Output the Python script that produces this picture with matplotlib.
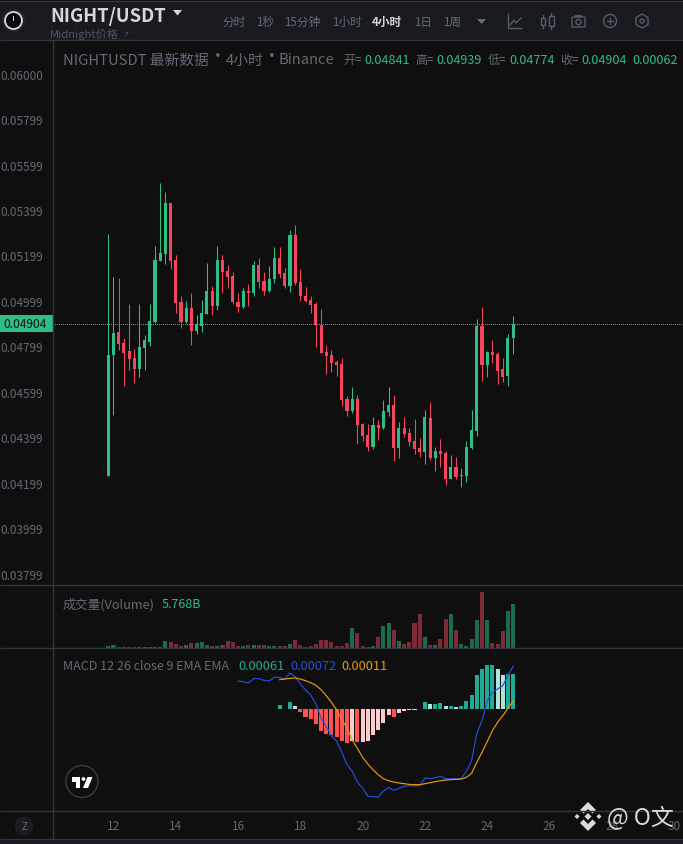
import matplotlib

matplotlib.use("Agg")
import matplotlib.pyplot as plt
import numpy as np
from matplotlib.patches import Circle, Polygon, Rectangle, FancyBboxPatch
from matplotlib.transforms import ScaledTranslation

plt.rcParams["font.family"] = ["Noto Sans CJK SC", "DejaVu Sans"]

W, H = 683, 845
BG = "#0F0F0F"
HEADER = "#181A20"
LINE = "#2F343F"
MUTED = "#646A76"
UP = "#2EBD85"
DOWN = "#F6465D"
BLUE = "#2450D8"
ORANGE = "#E89A0C"

opens = [.04235, .04767, .04869, .04820, .04785, .04754, .04706, .04798, .04825, .04913,
         .05181, .05212, .05437, .05186, .05001, .04913, .04974, .04873, .04895, .04948,
         .05049, .04983, .05186, .05137, .05115, .05001, .04979, .05049, .05040, .05164,
         .05093, .05049, .05102, .05194, .05128, .05071, .05296, .05089, .05027, .05010,
         .04992, .04900, .04781, .04767, .04737, .04728, .04574, .04521, .04574, .04464,
         .04415, .04363, .04459, .04446, .04517, .04547, .04358, .04446, .04424, .04389,
         .04358, .04341, .04490, .04314, .04345, .04336, .04222, .04274, .04235, .04235,
         .04358, .04433, .04895, .04723, .04781, .04772, .04706, .04675, .04841]
highs = [.05300, .05111, .05106, .04842, .04992, .04794, .04992, .04856, .04992, .05247,
         .05525, .05485, .05437, .05208, .05027, .05005, .05040, .04944, .05010, .05172,
         .05071, .05247, .05208, .05164, .05133, .05040, .05062, .05080, .05181, .05194,
         .05133, .05159, .05243, .05243, .05150, .05318, .05340, .05146, .05067, .05027,
         .05001, .04970, .04812, .04790, .04745, .04754, .04587, .04627, .04591, .04468,
         .04464, .04495, .04481, .04569, .04627, .04591, .04473, .04495, .04446, .04486,
         .04402, .04525, .04561, .04363, .04398, .04345, .04327, .04319, .04270, .04389,
         .04525, .04926, .04979, .04785, .04834, .04781, .04754, .04860, .04939]
lows = [.04235, .04503, .04790, .04631, .04701, .04644, .04671, .04701, .04807, .04908,
        .05181, .05168, .05146, .04952, .04886, .04908, .04812, .04860, .04869, .04948,
        .04944, .04966, .05040, .05062, .04992, .04957, .04974, .04983, .05027, .05062,
        .05032, .05045, .05084, .05106, .05062, .05045, .05076, .05005, .05001, .04952,
        .04803, .04776, .04684, .04693, .04675, .04543, .04499, .04512, .04376, .04389,
        .04345, .04354, .04393, .04442, .04499, .04301, .04314, .04407, .04367, .04332,
        .04319, .04288, .04305, .04257, .04274, .04195, .04222, .04222, .04186, .04208,
        .04354, .04411, .04653, .04671, .04732, .04640, .04649, .04631, .04774]
closes = [.04767, .04864, .04816, .04776, .04750, .04706, .04803, .04834, .04917, .05186,
          .05216, .05437, .05181, .04996, .04913, .04974, .04873, .04904, .04952, .05049,
          .04983, .05186, .05133, .05111, .05001, .04979, .05049, .05040, .05164, .05089,
          .05049, .05102, .05194, .05124, .05071, .05296, .05084, .05027, .05005, .04988,
          .04900, .04776, .04763, .04732, .04723, .04569, .04521, .04574, .04459, .04411,
          .04363, .04459, .04446, .04521, .04547, .04358, .04446, .04420, .04385, .04354,
          .04341, .04495, .04314, .04345, .04332, .04222, .04274, .04230, .04239, .04363,
          .04437, .04895, .04723, .04781, .04767, .04697, .04671, .04842, .04904]
# volume in billions
volumes = [.22, .39, .13, .13, .13, .13, .13, .13, .13, .13, .13, .87, .74, .52, .26, .39,
           .66, .66, .79, .39, .26, .26, .39, .87, .79, .26, .26, .39, .39, .39, .39, .26,
           .26, .26, .26, .52, 1.0, .39, .13, .26, .52, 1.05, 1.05, .79, .26, .26, .66,
           2.62, 1.97, .26, .13, .26, 1.44, 2.88, 3.28, 2.36, .92, .52, .79, 3.28, 4.46,
           1.44, .39, .39, 1.18, 3.8, 4.46, 2.36, .52, .26, 1.18, 3.67, 7.34, 3.67, .66,
           .52, 2.23, 4.85, 5.768]
# macd values in units of 1e-5, histogram from bar 33, macd from bar 25, signal from bar 33
hist = [6.4, -1.2, 11.6, 4.6, -5.8, -14.5, -18, -26.7, -38.9, -44.1, -46.4, -49.3, -56.3,
        -59.7, -56.8, -58, -57.9, -56.3, -45.8, -37.1, -24.9, -11, -14.5, -7.5, -3.5, -2.3,
        -1.7, -.6, 11.6, 8.1, 8.7, 9.9, 4.6, 5.2, 2.9, 4.6, 13.3, 23.8, 58.6, 69, 76, 76,
        69, 58.6, 60.3, 61]
macd = [48.1, 47, 44.7, 52.2, 52.2, 49.3, 48.1, 54.5, 54.5, 51.6, 62.1, 55.7, 42.9, 32.5,
        23.8, 8.1, -16.2, -31.3, -47, -56.8, -76, -97.4, -109, -128.2, -138, -152.5, -153.1,
        -153.7, -143.8, -136.9, -142.1, -138.6, -135.1, -134, -134, -133.4, -120.6, -121.8,
        -120.1, -117.7, -121.8, -121.8, -121.8, -121.8, -109, -90.5, -42.9, -20.9, 13.9,
        28.4, 34.2, 40, 57.4, 73.7]
signal = [50.5, 51.6, 52.8, 53.4, 51.6, 48.7, 45.2, 40.6, 33.1, 22.6, 11, -2.3, -19.1, -33.6,
          -54.5, -69, -84.7, -96.3, -106.1, -114.8, -121.8, -125.3, -127.6, -129.3, -130.5,
          -131.7, -132.2, -132.2, -130.5, -128.8, -127, -125.3, -124.1, -123.5, -123, -122.4,
          -119.5, -112.5, -93.4, -76, -57.4, -38.3, -23.8, -12.2, .6, 13.3]

price_ticks = [.06000, .05799, .05599, .05399, .05199, .04999, .04799, .04599, .04399, .04199,
               .03999, .03799]
date_ticks = ["12", "14", "16", "18", "20", "22", "24", "26", "28", "30"]
date_bars = [1, 13, 25, 37, 49, 61, 73, 85, 97, 109]
intervals = ["分时", "1秒", "15分钟", "1小时", "4小时", "1日", "1周"]
interval_x = [222, 256, 284, 332, 372, 414, 443]
last_price = 0.04904

BAR_PX = 5.19
BAR0_PX = 108.3
XLIM = ((53 - BAR0_PX) / BAR_PX, (683 - BAR0_PX) / BAR_PX)


def panel(fig, top, bottom):
    ax = fig.add_axes([53 / W, 1 - bottom / H, 630 / W, (bottom - top) / H], facecolor="none")
    ax.set_xlim(*XLIM)
    ax.tick_params(length=0)
    for side in ax.spines.values():
        side.set_visible(False)
    return ax


def draw_candles(ax, xs):
    o, h, l, c = map(np.array, (opens, highs, lows, closes))
    up = c >= o
    colors = np.where(up, UP, DOWN)
    ax.vlines(xs, l, h, colors=colors, lw=0.75)
    ax.bar(xs, np.abs(c - o), bottom=np.minimum(o, c), width=0.6, color=colors, lw=0)
    # 0.06000 sits at y=76px, 0.03799 at y=576px
    per_px = (0.06 - 0.03799) / 500
    ax.set_ylim(0.06 - (586 - 76) * per_px, 0.06 + (76 - 42) * per_px)
    ax.set_yticks(price_ticks, [f"{p:.5f}" for p in price_ticks], color=MUTED, fontsize=8.5)
    ax.tick_params(axis="y", pad=7)
    # labels sit a little above the level they mark
    shift = ScaledTranslation(0, 1.5 / 100, ax.figure.dpi_scale_trans)
    for lab in ax.get_yticklabels():
        lab.set_transform(lab.get_transform() + shift)
    ax.set_xticks([])
    ax.axhline(last_price, color=UP, lw=0.72, ls=(0, (1, 2)), antialiased=False)


def draw_volume(ax, xs):
    up = np.array(closes) >= np.array(opens)
    ax.bar(xs, volumes, width=0.78, color=np.where(up, "#1C6B4E", "#7E2B38"), lw=0)
    ax.set_ylim(0, 62 * 0.1311)
    ax.set_xticks([])
    ax.set_yticks([])


def draw_macd(ax):
    hx = np.arange(33, 33 + len(hist))
    colors = []
    prev = 0
    for v in hist:
        if v >= 0:
            colors.append("#22AB94" if v >= prev else "#ACE5DC")
        else:
            colors.append("#FF5252" if v < prev else "#FCCBCD")
        prev = v
    ax.bar(hx, hist, width=0.78, color=colors, lw=0)
    ax.plot(np.arange(25, 25 + len(macd)), macd, color=BLUE, lw=0.85)
    ax.plot(np.arange(33, 33 + len(signal)), signal, color=ORANGE, lw=0.85)
    # zero line at y=709.7px, one px is 1.74 units
    ax.set_ylim((709.7 - 812) * 1.74, (709.7 - 650) * 1.74)
    ax.set_yticks([])
    ax.set_xticks(date_bars, date_ticks, color=MUTED, fontsize=8.5)
    ax.tick_params(axis="x", pad=6)


def draw_chrome(ov):
    ov.add_patch(Rectangle((0, 2), W, 39, fc=HEADER, ec="none"))
    ov.add_patch(Rectangle((0, 840), W, 5, fc=HEADER, ec="none"))
    for y in (41, 586, 649, 812, 840):
        ov.plot([0, W], [y, y], color=LINE, lw=1, solid_capstyle="butt")
    ov.plot([0, W], [2, 2], color="#33363D", lw=1)
    ov.plot([53, 53], [41, 840], color=LINE, lw=1, solid_capstyle="butt")

    # token icon
    ov.add_patch(Circle((13.5, 21.5), 11.5, fc="#23252B", ec="none"))
    ov.add_patch(Circle((13.5, 21.5), 8.5, fc="#0B0B0D", ec="#DADADA", lw=1.3))
    ov.add_patch(Rectangle((12.8, 16.5), 1.5, 5, fc="#DADADA", ec="none"))

    ov.text(50, 16, "NIGHT/USDT", color="#D5D7DC", fontsize=13.3, fontweight="bold", va="center")
    ov.add_patch(Polygon([[173, 11], [182, 11], [177.5, 16.5]], fc="#D5D7DC", ec="none"))
    ov.text(50, 34.5, "Midnight价格", color="#4D5361", fontsize=8.1, va="center")
    ov.text(122, 35, "↗", color="#4D5361", fontsize=4.5, va="center")

    for label, x in zip(intervals, interval_x):
        active = label == "4小时"
        ov.text(x, 22.5, label, fontsize=8.4, va="center", color="#D5D7DC" if active else MUTED,
                fontweight="bold" if active else "normal")
    ov.add_patch(Polygon([[477, 20], [486, 20], [481.5, 25]], fc=MUTED, ec="none"))

    # toolbar icons
    c = "#565B66"
    ov.plot([508, 508, 521], [15, 29, 29], color=c, lw=1)
    ov.plot([510, 514, 516, 521], [26, 21, 24, 19], color=c, lw=1)
    ov.add_patch(Rectangle((541, 19), 4, 7, fc="none", ec=c, lw=1))
    ov.plot([543, 543], [16, 19], color=c, lw=1)
    ov.plot([543, 543], [26, 29], color=c, lw=1)
    ov.add_patch(Rectangle((549, 17), 4.5, 10, fc="none", ec=c, lw=1))
    ov.plot([551, 551], [14, 17], color=c, lw=1)
    ov.plot([551, 551], [27, 30], color=c, lw=1)
    ov.add_patch(FancyBboxPatch((572, 18), 13, 10, boxstyle="round,pad=0,rounding_size=1", fc="none", ec=c, lw=1))
    ov.add_patch(Rectangle((575, 15.5), 7, 2.5, fc=c, ec="none"))
    ov.add_patch(Circle((578.5, 23), 2.6, fc="none", ec=c, lw=1))
    ov.add_patch(Circle((610, 22), 6.5, fc="none", ec=c, lw=1))
    ov.plot([607, 613], [22, 22], color=c, lw=1)
    ov.plot([610, 610], [19, 25], color=c, lw=1)
    hexa = [[642, 15], [648, 18.5], [648, 25.5], [642, 29], [636, 25.5], [636, 18.5]]
    ov.add_patch(Polygon(hexa, fc="none", ec=c, lw=1))
    ov.add_patch(Circle((642, 22), 2, fc="none", ec=c, lw=1))

    # legend rows
    ov.text(63, 60.5, "NIGHTUSDT 最新数据", color=MUTED, fontsize=10.65, va="center")
    ov.text(218, 57, "·", color=MUTED, fontsize=10, va="center", ha="center", fontweight="bold")
    ov.text(226, 60.5, "4小时", color=MUTED, fontsize=10.65, va="center")
    ov.text(272, 57, "·", color=MUTED, fontsize=10, va="center", ha="center", fontweight="bold")
    ov.text(279, 60.5, "Binance", color=MUTED, fontsize=10.65, va="center")
    for lab, val, x in (("开=", "0.04841", 343), ("高=", "0.04939", 415), ("低=", "0.04774", 488), ("收=", "0.04904", 560)):
        ov.text(x, 60.5, lab, color=MUTED, fontsize=8.6, va="center")
        ov.text(x + 21, 60.5, val, color=UP, fontsize=9.1, va="center")
    ov.text(632, 60.5, "0.00062", color=UP, fontsize=9.1, va="center")
    ov.text(63, 604.5, "成交量(Volume)", color=MUTED, fontsize=9.2, va="center")
    ov.text(162, 604.5, "5.768B", color=UP, fontsize=9, va="center")
    ov.text(63, 666.5, "MACD 12 26 close 9 EMA EMA", color=MUTED, fontsize=9, va="center")
    ov.text(238, 666.5, "0.00061", color="#22AB94", fontsize=9.2, va="center")
    ov.text(290, 666.5, "0.00072", color=BLUE, fontsize=9.2, va="center")
    ov.text(341, 666.5, "0.00011", color=ORANGE, fontsize=9.2, va="center")

    # last price tag
    ov.add_patch(Rectangle((0, 316), 53, 17, fc=UP, ec="none"))
    ov.text(3.5, 324.5, f"{last_price:.5f}", color="#0F0F0F", fontsize=8.6, va="center")

    # tradingview badge
    ov.add_patch(Circle((82, 782.5), 16, fc=BG, ec="#3A3C41", lw=1))
    ov.add_patch(Polygon([[72, 778], [80, 778], [80, 789], [76, 789], [76, 783], [72, 783]], fc="white", ec="none"))
    ov.add_patch(Circle((83.5, 780), 1.9, fc="white", ec="none"))
    ov.add_patch(Polygon([[87.5, 778], [92.5, 778], [88, 789], [83, 789]], fc="white", ec="none"))

    # zoom reset button
    ov.add_patch(Circle((24, 827), 9.5, fc="#1A1C20", ec="none"))
    ov.text(24, 827, "Z", color=MUTED, fontsize=7, ha="center", va="center")

    # watermark over the axis
    wm = "#D9D9D9"
    ov.add_patch(Polygon([[588, 803], [596, 811], [592.5, 814.5], [588, 810], [583.5, 814.5], [580, 811]], fc=wm, ec="none"))
    ov.add_patch(Polygon([[588, 832], [596, 824], [592.5, 820.5], [588, 825], [583.5, 820.5], [580, 824]], fc=wm, ec="none"))
    ov.add_patch(Polygon([[588, 814], [591.5, 817.5], [588, 821], [584.5, 817.5]], fc=wm, ec="none"))
    ov.add_patch(Polygon([[577, 815], [579.5, 817.5], [577, 820], [574.5, 817.5]], fc=wm, ec="none"))
    ov.add_patch(Polygon([[599, 815], [601.5, 817.5], [599, 820], [596.5, 817.5]], fc=wm, ec="none"))
    ov.text(607, 817.5, "@ O文", color=wm, fontsize=16.5, va="center", zorder=5)


def main():
    fig = plt.figure(figsize=(W / 100, H / 100), dpi=100, facecolor=BG)
    xs = np.arange(len(closes))

    ov = fig.add_axes([0, 0, 1, 1], facecolor=BG)
    ov.set_xlim(0, W)
    ov.set_ylim(H, 0)
    ov.axis("off")

    price_ax = panel(fig, 42, 586)
    draw_candles(price_ax, xs)
    vol_ax = panel(fig, 587, 649)
    draw_volume(vol_ax, xs)
    macd_ax = panel(fig, 650, 812)
    draw_macd(macd_ax)

    top = fig.add_axes([0, 0, 1, 1], facecolor="none")
    top.set_xlim(0, W)
    top.set_ylim(H, 0)
    top.axis("off")
    draw_chrome(top)

    fig.savefig("out.png", dpi=100, facecolor=BG)


if __name__ == "__main__":
    main()
